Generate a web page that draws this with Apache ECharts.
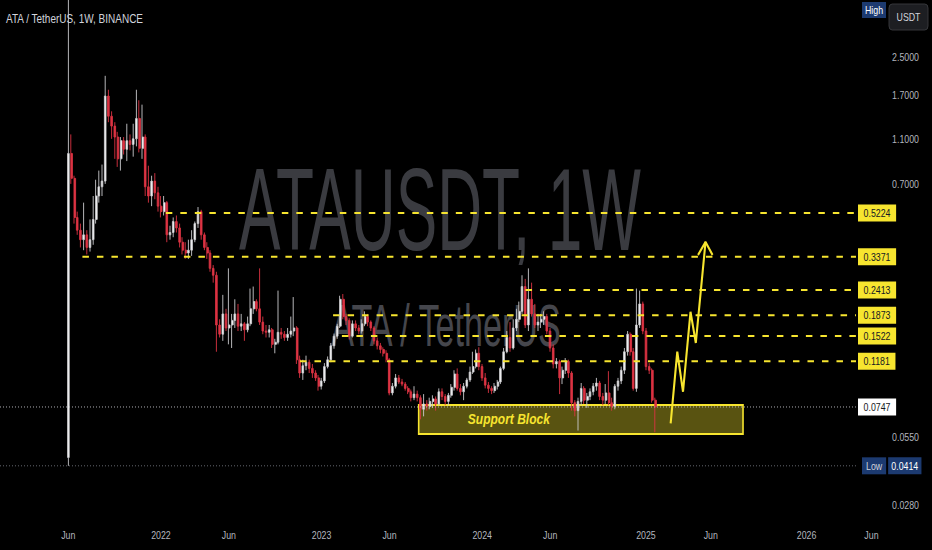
<!DOCTYPE html>
<html><head><meta charset="utf-8">
<script src="https://cdn.jsdelivr.net/npm/echarts@6/dist/echarts.min.js"></script>
<style>html,body{margin:0;padding:0;background:#000;overflow:hidden;width:932px;height:550px}
#c{width:1165px;height:550px;transform:scaleX(0.8);transform-origin:0 0}</style>
</head><body><div id="c"></div>
<script>
// ---------------- DATA ----------------
const chartTitle = 'ATA / TetherUS, 1W, BINANCE';
const watermarkBig = 'ATAUSDT, 1W';
const watermarkSmall = 'ATA / TetherUS';
const firstWeek = '2021-06-07';   // weekly candles, one per week from here
// rows: [open, close, low, high]
const candles2021 = [
 [0.045,0.95,0.0414,5.0],[0.95,0.74,0.70,1.15],[0.74,0.50,0.47,0.76],[0.50,0.44,0.42,0.53],
 [0.44,0.40,0.37,0.47],[0.40,0.42,0.36,0.58],[0.42,0.37,0.345,0.44],[0.37,0.40,0.355,0.49],
 [0.40,0.49,0.38,0.62],[0.49,0.62,0.47,0.73],[0.62,0.68,0.58,0.80],[0.68,0.72,0.62,0.85],
 [0.72,1.69,0.70,2.07],[1.69,1.38,1.30,1.80],[1.38,1.25,1.10,1.45],[1.25,1.12,0.90,1.30],
 [1.12,0.90,0.83,1.18],[0.90,1.08,0.80,1.12],[1.08,0.99,0.94,1.12],[0.99,1.08,0.88,1.28],
 [1.08,1.04,0.98,1.15],[1.04,1.10,0.92,1.28],[1.10,1.35,1.02,1.80],[1.35,1.00,0.96,1.62],
 [1.00,1.12,0.90,1.55],[1.12,0.68,0.62,1.15],[0.68,0.62,0.58,0.84],[0.62,0.72,0.56,0.76],
 [0.72,0.64,0.60,0.78],[0.64,0.56,0.53,0.68]
];
const candles2022 = [
 [0.56,0.53,0.50,0.62],[0.53,0.58,0.51,0.62],[0.58,0.42,0.39,0.59],[0.42,0.43,0.40,0.46],
 [0.43,0.48,0.41,0.50],[0.48,0.45,0.43,0.51],[0.45,0.39,0.37,0.47],[0.39,0.36,0.345,0.41],
 [0.36,0.35,0.33,0.39],[0.35,0.36,0.33,0.40],[0.36,0.40,0.34,0.44],[0.40,0.47,0.39,0.48],
 [0.47,0.53,0.45,0.555],[0.53,0.42,0.40,0.54],[0.42,0.37,0.36,0.43],[0.37,0.35,0.33,0.39],
 [0.35,0.30,0.29,0.36],[0.30,0.28,0.26,0.31],[0.28,0.17,0.13,0.29],[0.17,0.155,0.15,0.18],
 [0.155,0.19,0.145,0.23],[0.19,0.165,0.16,0.20],[0.165,0.17,0.14,0.30],[0.17,0.178,0.135,0.19],
 [0.178,0.19,0.165,0.22],[0.19,0.168,0.16,0.21],[0.168,0.172,0.16,0.19],[0.172,0.162,0.145,0.175],
 [0.162,0.172,0.158,0.185],[0.172,0.20,0.168,0.245],[0.20,0.215,0.19,0.25],[0.215,0.20,0.195,0.22],
 [0.20,0.175,0.17,0.30],[0.175,0.16,0.155,0.185],[0.16,0.158,0.15,0.17],[0.158,0.162,0.15,0.17],
 [0.162,0.14,0.135,0.165],[0.14,0.143,0.128,0.148],[0.143,0.158,0.14,0.24],[0.158,0.155,0.148,0.165],
 [0.155,0.15,0.145,0.16],[0.15,0.155,0.145,0.165],[0.155,0.16,0.15,0.185],[0.16,0.165,0.152,0.225],
 [0.165,0.12,0.115,0.168],[0.12,0.105,0.10,0.125],[0.105,0.113,0.098,0.12],[0.113,0.117,0.108,0.125],
 [0.117,0.11,0.105,0.12],[0.11,0.105,0.10,0.115],[0.105,0.10,0.097,0.108],[0.10,0.092,0.088,0.103]
];
const candles2023 = [
 [0.092,0.097,0.089,0.10],[0.097,0.112,0.095,0.116],[0.112,0.12,0.11,0.124],[0.12,0.138,0.117,0.142],
 [0.138,0.152,0.134,0.156],[0.152,0.168,0.148,0.172],[0.168,0.22,0.165,0.228],[0.22,0.185,0.18,0.232],
 [0.185,0.178,0.17,0.19],[0.178,0.152,0.147,0.182],[0.152,0.172,0.15,0.178],[0.172,0.165,0.16,0.178],
 [0.165,0.16,0.155,0.17],[0.16,0.172,0.156,0.18],[0.172,0.185,0.168,0.195],[0.185,0.175,0.168,0.19],
 [0.175,0.165,0.16,0.178],[0.165,0.145,0.14,0.168],[0.145,0.138,0.133,0.15],[0.138,0.133,0.128,0.142],
 [0.133,0.128,0.124,0.136],[0.128,0.12,0.117,0.132],[0.12,0.086,0.084,0.122],[0.086,0.092,0.084,0.095],
 [0.092,0.10,0.09,0.104],[0.10,0.096,0.094,0.103],[0.096,0.094,0.092,0.099],[0.094,0.09,0.088,0.096],
 [0.09,0.087,0.085,0.092],[0.087,0.082,0.079,0.089],[0.082,0.085,0.08,0.092],[0.085,0.082,0.079,0.088],
 [0.082,0.073,0.066,0.084],[0.073,0.077,0.068,0.085],[0.077,0.075,0.072,0.08],[0.075,0.079,0.073,0.082],
 [0.079,0.081,0.074,0.084],[0.081,0.077,0.072,0.083],[0.077,0.087,0.076,0.09],[0.087,0.083,0.08,0.09],
 [0.083,0.079,0.076,0.085],[0.079,0.084,0.076,0.086],[0.084,0.091,0.082,0.094],[0.091,0.104,0.088,0.108],
 [0.104,0.09,0.088,0.11],[0.09,0.087,0.084,0.094],[0.087,0.092,0.08,0.095],[0.092,0.098,0.09,0.10],
 [0.098,0.106,0.096,0.112],[0.106,0.112,0.104,0.13],[0.112,0.128,0.11,0.133],[0.128,0.112,0.108,0.136]
];
const candles2024 = [
 [0.112,0.10,0.097,0.115],[0.10,0.093,0.09,0.105],[0.093,0.09,0.086,0.096],[0.09,0.088,0.085,0.092],
 [0.088,0.092,0.086,0.095],[0.092,0.096,0.089,0.098],[0.096,0.11,0.094,0.112],[0.11,0.13,0.108,0.135],
 [0.13,0.15,0.128,0.16],[0.15,0.135,0.13,0.175],[0.135,0.165,0.133,0.18],[0.165,0.18,0.16,0.20],
 [0.18,0.195,0.175,0.215],[0.195,0.25,0.19,0.28],[0.25,0.17,0.165,0.27],[0.17,0.22,0.16,0.30],
 [0.22,0.19,0.185,0.26],[0.19,0.17,0.165,0.21],[0.17,0.175,0.16,0.19],[0.175,0.18,0.165,0.19],
 [0.18,0.185,0.17,0.195],[0.185,0.16,0.155,0.19],[0.16,0.135,0.13,0.165],[0.135,0.115,0.11,0.14],
 [0.115,0.118,0.11,0.122],[0.118,0.10,0.085,0.12],[0.10,0.108,0.094,0.112],[0.108,0.118,0.104,0.122],
 [0.118,0.105,0.10,0.12],[0.105,0.078,0.072,0.107],[0.078,0.072,0.068,0.08],[0.072,0.079,0.059,0.082],
 [0.079,0.09,0.076,0.095],[0.09,0.08,0.077,0.092],[0.08,0.083,0.074,0.086],[0.083,0.087,0.08,0.09],
 [0.087,0.092,0.084,0.095],[0.092,0.095,0.088,0.10],[0.095,0.083,0.08,0.097],[0.083,0.08,0.076,0.086],
 [0.08,0.086,0.077,0.094],[0.086,0.078,0.076,0.107],[0.078,0.075,0.072,0.082],[0.075,0.092,0.073,0.094],
 [0.092,0.097,0.088,0.10],[0.097,0.108,0.094,0.112],[0.108,0.13,0.104,0.135],[0.13,0.155,0.125,0.16],
 [0.155,0.13,0.125,0.158],[0.13,0.09,0.088,0.135],[0.09,0.17,0.087,0.245],[0.17,0.21,0.165,0.24],
 [0.21,0.16,0.155,0.215]
];
const candles2025 = [
 [0.16,0.112,0.108,0.165],[0.112,0.108,0.104,0.116],[0.108,0.08,0.078,0.11],[0.08,0.0747,0.058,0.082]
];
const levels      = [0.5224, 0.3371, 0.2413, 0.1873, 0.1522, 0.1181];
const levelStarts = ['2022-01-14','2021-07-09','2024-04-08','2023-01-28','2023-02-17','2022-11-14'];
const linesEnd    = '2026-04-27';
const lastPrice = 0.0747;
const lowPrice  = 0.0414;
const priceTicks = [2.5, 1.7, 1.1, 0.7, 0.055, 0.028];
const timeTicks      = ['2021-06-07','2022-01-03','2022-06-06','2023-01-02','2023-06-05','2024-01-01','2024-06-03','2025-01-06','2025-06-02','2026-01-05','2026-06-01'];
const timeTickLabels = ['Jun','2022','Jun','2023','Jun','2024','Jun','2025','Jun','2026','Jun'];
const supportFrom = '2023-08-10', supportTo = '2025-08-14';
const supportTop = 0.0762, supportBottom = 0.0570;
const zigzagDates  = ['2025-03-03','2025-03-18','2025-03-31','2025-04-17','2025-04-29','2025-05-21'];
const zigzagPrices = [0.0634, 0.130, 0.0871, 0.194, 0.142, 0.391];
const arrowHeadDates  = ['2025-05-04','2025-05-21','2025-06-06'];
const arrowHeadPrices = [0.343, 0.391, 0.343];

// ---------------- BUILD ----------------
// The whole chart is laid out 1/SX wider and squeezed horizontally by CSS (narrow TradingView look).
const SX = 0.8;
const X = v => v / SX;               // visual px -> layout px
const WEEK = 7*864e5;
const t0 = Date.parse(firstWeek);
const allCandles = [].concat(candles2021, candles2022, candles2023, candles2024, candles2025);
const L = Math.log;
const candleData = allCandles.map((r,i)=>[t0 + i*WEEK, L(r[0]), L(r[1]), L(r[2]), L(r[3])]);

const FAM = 'Liberation Sans';
const ctx2 = document.createElement('canvas').getContext('2d');
function textW(txt, size){ ctx2.font = size+'px "'+FAM+'"'; return ctx2.measureText(txt).width; }

// axis window: first candle at visual x≈68, ~3.09 visual px per week
const xMin = t0 - (68.3/3.089)*WEEK;
const xMax = xMin + (932/3.089)*WEEK;
const yMin = -3.748, yMax = 1.488;
const tEnd = Date.parse(linesEnd);

const series = [];
series.push({
  type:'candlestick', data:candleData, encode:{x:0,y:[1,2,3,4]}, barWidth:X(2), z:3,
  itemStyle:{color:'#ffffff', color0:'#dd3343', borderColor:'#c9cacd', borderColor0:'#dd3343', borderWidth:1}
});
levels.forEach((v,k)=>{
  series.push({type:'line', silent:true, symbol:'none', z:4,
    data:[[Date.parse(levelStarts[k]), L(v)],[tEnd, L(v)]],
    lineStyle:{color:'#f7e52f', width:2, type:[X(6.5),X(8)]}});
});
series.push({type:'line', silent:true, symbol:'none', z:4,
  data:[[xMin, L(lastPrice)],[tEnd, L(lastPrice)]], lineStyle:{color:'#bfc1c6', width:1, type:[X(1),X(2)]}});
series.push({type:'line', silent:true, symbol:'none', z:4,
  data:[[xMin, L(lowPrice)],[tEnd, L(lowPrice)]], lineStyle:{color:'#6f727a', width:1, type:[X(1),X(2)]}});
series.push({type:'line', silent:true, symbol:'none', z:5,
  data: zigzagDates.map((d,k)=>[Date.parse(d), L(zigzagPrices[k])]),
  lineStyle:{color:'#f7e52f', width:2.6},
  markArea:{silent:true, z:1,
    itemStyle:{color:'rgba(247,229,47,0.36)', borderColor:'#f7e52f', borderWidth:2},
    label:{show:true, position:'inside', offset:[X(-72),0], formatter:'Support Block',
      color:'#f7e52f', fontStyle:'italic', fontWeight:'bold', fontSize:15, fontFamily:FAM},
    data:[[{coord:[Date.parse(supportFrom), L(supportTop)]},{coord:[Date.parse(supportTo), L(supportBottom)]}]]}
});
series.push({type:'line', silent:true, symbol:'none', z:5,
  data: arrowHeadDates.map((d,k)=>[Date.parse(d), L(arrowHeadPrices[k])]),
  lineStyle:{color:'#f7e52f', width:2.4}});

const boxVals = levels.concat([lastPrice, lowPrice]);
const near = (a,b)=>Math.abs(a-b)<1e-6;

const bigSize = 116, smallSize = 60;
const bigScale = X(402)/textW(watermarkBig, bigSize);
const smallScale = X(232)/textW(watermarkSmall, smallSize);

const lbl = {fontSize:11, fontFamily:FAM};
const chart = echarts.init(document.getElementById('c'), null, {renderer:'svg'});
chart.setOption({
  backgroundColor:'#000000',
  animation:false,
  grid:{left:0, right:0, top:0, bottom:28, containLabel:false},
  xAxis:{type:'value', min:xMin, max:xMax, scale:true,
    axisLine:{show:false}, axisTick:{show:false}, splitLine:{show:false},
    axisLabel:Object.assign({customValues: timeTicks.map(d=>Date.parse(d)), color:'#b2b5be', margin:8,
      formatter:(v)=>{ const k = timeTicks.findIndex(d=>Math.abs(Date.parse(d)-v)<864e5); return k>=0?timeTickLabels[k]:''; }}, lbl)},
  yAxis:[
    {type:'value', position:'right', min:yMin, max:yMax, axisLine:{show:false}, axisTick:{show:false}, splitLine:{show:false},
     axisLabel:Object.assign({inside:true, margin:X(13), customValues: priceTicks.map(L), color:'#b2b5be',
       formatter:(v)=>Math.exp(v).toFixed(4)}, lbl)},
    {type:'value', position:'right', min:yMin, max:yMax, z:10, axisLine:{show:false}, axisTick:{show:false}, splitLine:{show:false},
     axisLabel:Object.assign({inside:true, align:'left', margin:X(74), customValues: boxVals.map(L),
       formatter:(v)=>{
         if (near(v, L(lastPrice))) return '{w|'+lastPrice.toFixed(4)+'}';
         if (near(v, L(lowPrice))) return '{sp|}{lt|Low}{gap|}{lv|'+lowPrice.toFixed(4)+'}';
         return '{y|'+Math.exp(v).toFixed(4)+'}';
       },
       rich:{
         y:Object.assign({backgroundColor:'#f7e52f', color:'#131722', padding:[3,7,3,7]}, lbl),
         w:Object.assign({backgroundColor:'#ffffff', color:'#131722', padding:[3,7,3,7]}, lbl),
         sp:{width:X(4)},
         lt:Object.assign({backgroundColor:'#1c3a70', color:'#d1d4dc', padding:[3,5,3,5]}, lbl),
         gap:{width:X(2)},
         lv:Object.assign({backgroundColor:'#1c3a70', color:'#ffffff', padding:[3,4,3,4]}, lbl)
       }}, lbl)}
  ],
  graphic:[
    {type:'text', x:X(440), y:210, scaleX:bigScale, z:0, silent:true,
     style:{text:watermarkBig, fontSize:bigSize, fontFamily:FAM, fill:'#3a3b40', align:'center', verticalAlign:'middle'}},
    {type:'text', x:X(446), y:325, scaleX:smallScale, z:0, silent:true,
     style:{text:watermarkSmall, fontSize:smallSize, fontFamily:FAM, fill:'#45464c', align:'center', verticalAlign:'middle'}},
    {type:'text', x:X(6), y:19, z:20, silent:true,
     style:{text:chartTitle, fontSize:12.5, fontFamily:FAM, fill:'#d1d4dc', align:'left', verticalAlign:'middle'}},
    {type:'group', x:X(862), y:2, z:20, children:[
      {type:'rect', shape:{x:0,y:0,width:X(24),height:16}, style:{fill:'#1c3a70'}},
      {type:'text', x:X(12), y:8, style:{text:'High', fill:'#ffffff', fontSize:11, fontFamily:FAM, align:'center', verticalAlign:'middle'}}]},
    {type:'group', x:X(889), y:4, z:20, children:[
      {type:'rect', shape:{x:0,y:0,width:X(39),height:26,r:4}, style:{fill:'#1d1e22', stroke:'#3a3b40', lineWidth:1}},
      {type:'text', x:X(19.5), y:13.5, style:{text:'USDT', fill:'#d1d4dc', fontSize:11, fontFamily:FAM, align:'center', verticalAlign:'middle'}}]}
  ],
  series: series
});
</script></body></html>
